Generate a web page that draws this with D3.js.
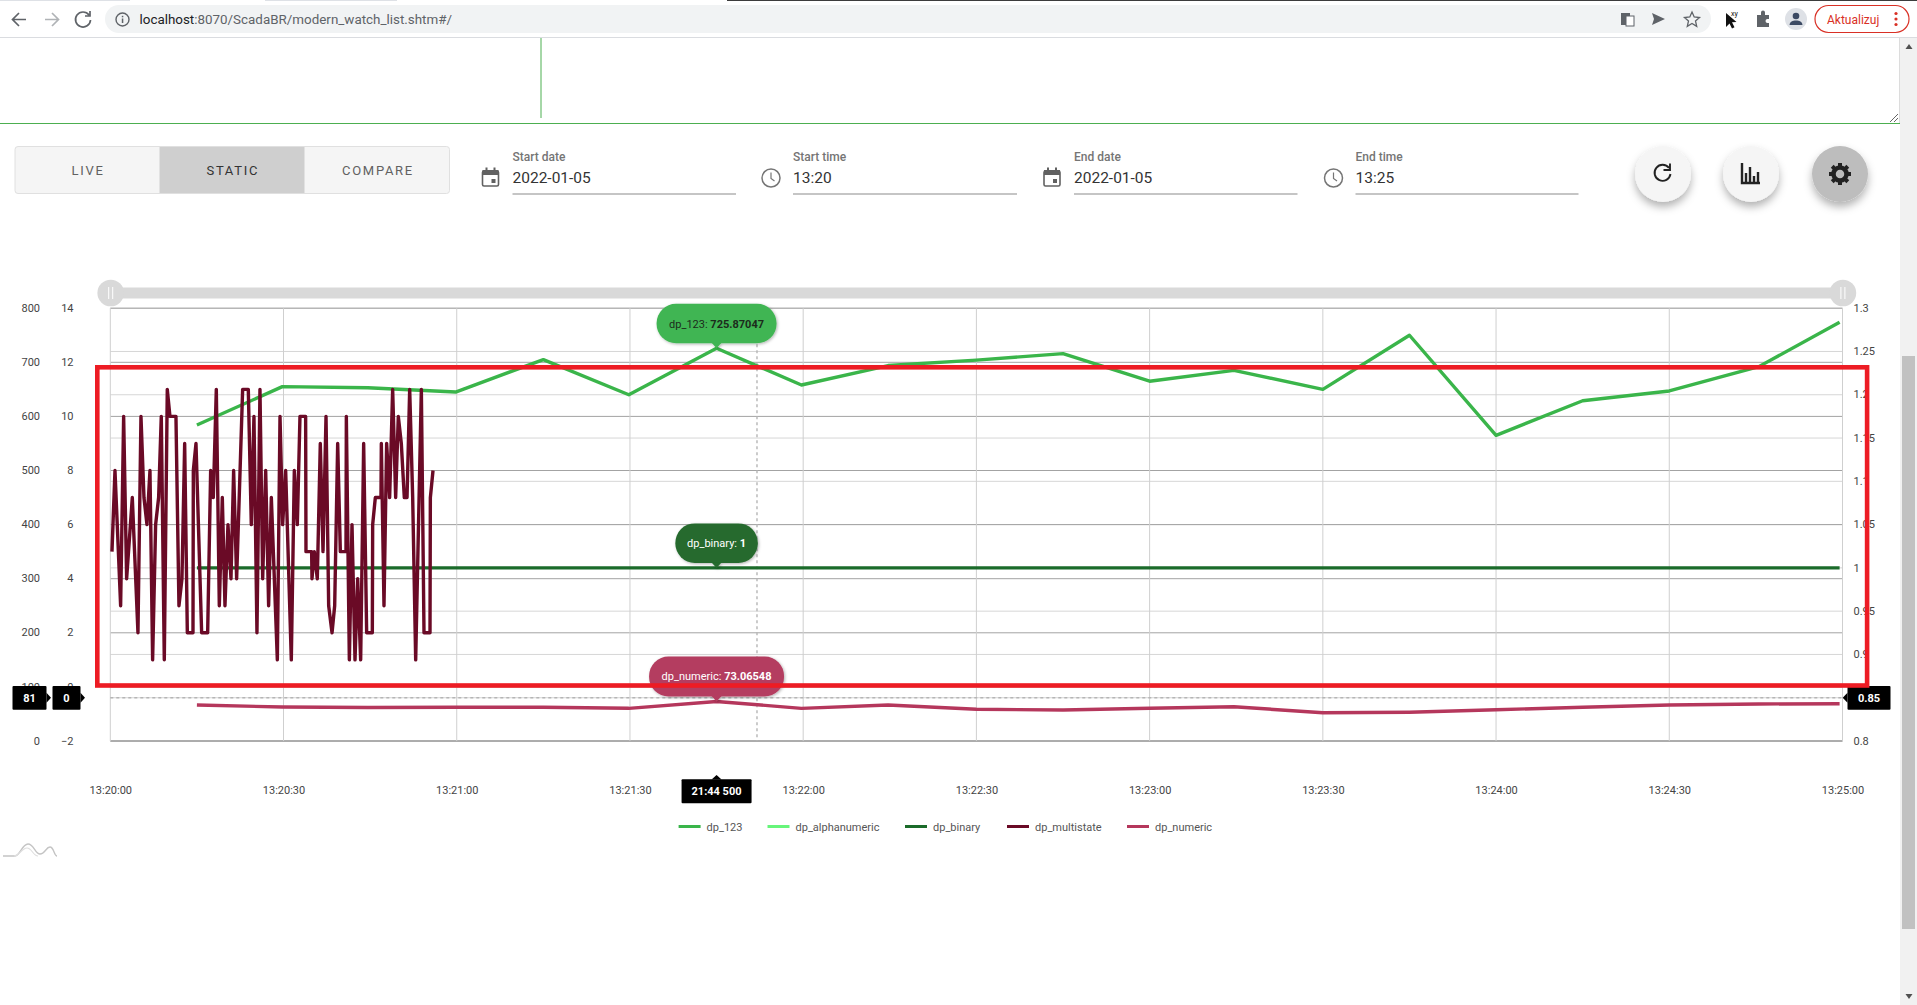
<!DOCTYPE html>
<html>
<head>
<meta charset="utf-8">
<script src="https://cdn.jsdelivr.net/npm/d3@7"></script>
<style>
html, body { margin: 0; padding: 0; background: #fff; overflow: hidden; }
svg { display: block; }
text { font-family: Roboto, "Liberation Sans", sans-serif; }
</style>
</head>
<body>
<div id="chart"></div>
<script>
// seconds after 13:20:00
const pointSeconds = [15, 29.8, 44.6, 59.8, 75, 89.8, 105, 119.7, 134.7, 150, 165, 180, 194.6, 210, 225, 240, 255, 270, 285.5, 299.5];
const dp123 = [584, 655, 653, 645, 705, 640, 725.87, 658, 694, 704, 716, 665, 685, 650, 750, 565, 629, 647, 692, 774];
const dpBinary = [1, 1, 1, 1, 1, 1, 1, 1, 1, 1, 1, 1, 1, 1, 1, 1, 1, 1, 1, 1];
const dpNumeric = [66.5, 62.8, 62, 62.3, 62.5, 60.4, 73.07, 60.4, 66.5, 58.6, 57.3, 60.4, 63.4, 52.1, 53.2, 57.8, 62.3, 66.5, 68.4, 68.9];

const multiSeconds = [0.29, 0.81, 1.79, 2.31, 2.83, 3.81, 4.79, 5.31, 5.83, 6.35, 6.87, 7.33, 7.85, 8.37, 8.83, 9.35, 9.87, 10.33, 11.37, 11.89,
  12.41, 12.88, 13.34, 14.32, 14.38, 14.84, 15.82, 16.86, 17.38, 17.84, 18.36, 18.88, 19.4, 19.86, 20.38, 20.9, 21.36, 21.88, 22.92, 23.9,
  24.42, 24.88, 25.4, 25.92, 26.39, 26.91, 27.42, 27.89, 28.93, 29.39, 29.85, 30.37, 31.35, 31.87, 32.39, 32.85, 33.83, 33.89, 34.87, 34.93,
  35.33, 35.85, 36.37, 36.84, 37.36, 37.82, 38.4, 38.86, 39.38, 39.84, 40.82, 40.88, 41.4, 41.86, 42.38, 42.84, 43.36, 43.88, 44.4, 45.38,
  45.44, 45.9, 46.88, 46.94, 47.4, 47.86, 48.38, 48.9, 49.42, 49.88, 50.4, 50.92, 51.39, 51.85, 52.37, 52.89, 53.87, 54.33, 55.37, 55.43, 55.89];
const dpMultistate = [5, 8, 3, 10, 4, 7, 2, 10, 7, 6, 8, 1, 6, 7, 10, 1, 11, 10, 10, 3,
  4, 9, 2, 2, 8, 9, 2, 2, 8, 7, 11, 3, 7, 3, 6, 4, 8, 4, 11, 11,
  6, 10, 2, 11, 4, 8, 3, 7, 1, 10, 6, 8, 1, 8, 6, 10, 10, 5, 5, 4,
  5, 4, 9, 5, 10, 3, 2, 3, 9, 5, 5, 10, 1, 6, 1, 4, 1, 9, 2, 2,
  6, 7, 7, 9, 3, 9, 7, 11, 7, 10, 9, 7, 7, 11, 7, 1, 11, 2, 2, 7, 8];

const leftTicks = [0, 100, 200, 300, 400, 500, 600, 700, 800];
const multiTicks = [-2, 0, 2, 4, 6, 8, 10, 12, 14];
const rightTicks = [0.8, 0.85, 0.9, 0.95, 1, 1.05, 1.1, 1.15, 1.2, 1.25, 1.3];
const timeTickSeconds = [0, 30, 60, 90, 120, 150, 180, 210, 240, 270, 300];

const legendNames = ["dp_123", "dp_alphanumeric", "dp_binary", "dp_multistate", "dp_numeric"];
const legendColors = ["#3ab54a", "#67f57a", "#1b6b2a", "#6a0a26", "#b5375c"];
const legendLineX = [678.6, 767.5, 905, 1007, 1127];

const svg = d3.select("#chart").append("svg").attr("width", 1917).attr("height", 1005);
const W = 1917;

const defs = svg.append("defs");
const shadow = defs.append("filter").attr("id", "shadow").attr("x", "-40%").attr("y", "-40%").attr("width", "180%").attr("height", "200%");
shadow.append("feDropShadow").attr("dx", 0).attr("dy", 5).attr("stdDeviation", 4).attr("flood-color", "#000").attr("flood-opacity", 0.3);
const tipShadow = defs.append("filter").attr("id", "tipShadow").attr("x", "-20%").attr("y", "-20%").attr("width", "140%").attr("height", "150%");
tipShadow.append("feDropShadow").attr("dx", 1).attr("dy", 1).attr("stdDeviation", 1.5).attr("flood-color", "#000").attr("flood-opacity", 0.3);

function toDate(s) { return new Date(2022, 0, 5, 13, 20, 0, s * 1000); }

// ---------- browser bar
const chrome = svg.append("g");
chrome.append("rect").attr("width", W).attr("height", 37).attr("fill", "#fff");
chrome.append("rect").attr("width", 130).attr("height", 1).attr("fill", "#dee1e6");
chrome.append("rect").attr("x", 265).attr("width", 132).attr("height", 1).attr("fill", "#dee1e6");
chrome.append("rect").attr("x", 727).attr("width", 1190).attr("height", 1).attr("fill", "#3c3c3c");
chrome.append("line").attr("x1", 0).attr("x2", W).attr("y1", 37.5).attr("y2", 37.5).attr("stroke", "#dadce0");
chrome.append("rect").attr("x", 105).attr("y", 5).attr("width", 1606).attr("height", 28).attr("rx", 14).attr("fill", "#f1f3f4");

function navIcon(d, color) {
  chrome.append("path").attr("d", d).attr("fill", "none").attr("stroke", color).attr("stroke-width", 1.7);
}
navIcon("M26 19.5H13M19 13l-6.5 6.5L19 26", "#5f6368");
navIcon("M45 19.5H58M52 13l6.5 6.5L52 26", "#b0b3b6");
navIcon("M89 15a7.5 7.5 0 1 0 1.5 5M90 11v5h-5", "#5f6368");
chrome.append("circle").attr("cx", 122.5).attr("cy", 19.5).attr("r", 6.5).attr("fill", "none").attr("stroke", "#5f6368").attr("stroke-width", 1.4);
chrome.append("rect").attr("x", 121.8).attr("y", 18.5).attr("width", 1.5).attr("height", 4.5).attr("fill", "#5f6368");
chrome.append("rect").attr("x", 121.8).attr("y", 15.8).attr("width", 1.5).attr("height", 1.5).attr("fill", "#5f6368");

const url = chrome.append("text").attr("x", 139.5).attr("y", 24).attr("font-size", 13.4).attr("fill", "#5f6368");
url.append("tspan").attr("fill", "#202124").text("localhost");
url.append("tspan").text(":8070/ScadaBR/modern_watch_list.shtm#/");

// translate, send, star, cursor, puzzle, avatar
chrome.append("rect").attr("x", 1621).attr("y", 13).attr("width", 9).attr("height", 12).attr("fill", "#5f6368");
chrome.append("rect").attr("x", 1626).attr("y", 16).attr("width", 8).attr("height", 10).attr("fill", "#fff").attr("stroke", "#5f6368");
chrome.append("path").attr("d", "M1652 13l13 6-13 6 2-6z").attr("fill", "#5f6368");
chrome.append("path").attr("d", "M1692 12l2.2 5 5.3.5-4 3.5 1.2 5.3-4.7-2.8-4.7 2.8 1.2-5.3-4-3.5 5.3-.5z").attr("fill", "none").attr("stroke", "#5f6368").attr("stroke-width", 1.3);
chrome.append("path").attr("d", "M1726 13v14l3.5-3.5 2.5 5 2.5-1.2-2.5-5 4.5-.3z").attr("fill", "#111");
chrome.append("text").attr("x", 1731).attr("y", 16).attr("font-size", 7).attr("fill", "#111").text("xy");
chrome.append("path").attr("d", "M1757 15h4v-2.5a2 2 0 0 1 4 0V15h4v4h-1.5a2 2 0 0 0 0 4h1.5v4h-12z").attr("fill", "#5f6368");
chrome.append("circle").attr("cx", 1796).attr("cy", 19).attr("r", 11).attr("fill", "#dee1e6");
chrome.append("circle").attr("cx", 1796).attr("cy", 16).attr("r", 3.3).attr("fill", "#3c4a63");
chrome.append("path").attr("d", "M1789.5 25c.5-3.5 3-4.5 6.5-4.5s6 1 6.5 4.5z").attr("fill", "#3c4a63");
chrome.append("rect").attr("x", 1815).attr("y", 5.5).attr("width", 94).attr("height", 27).attr("rx", 13.5).attr("fill", "#fff").attr("stroke", "#d93025").attr("stroke-width", 1.2);
chrome.append("text").attr("x", 1827).attr("y", 23.5).attr("font-size", 12).attr("fill", "#d93025").text("Aktualizuj");
[13.5, 19, 24.5].forEach(y => chrome.append("circle").attr("cx", 1896).attr("cy", y).attr("r", 1.6).attr("fill", "#d93025"));

// ---------- textarea remains and scrollbar
svg.append("line").attr("x1", 541).attr("x2", 541).attr("y1", 38).attr("y2", 118).attr("stroke", "#4caf50");
svg.append("line").attr("x1", 0).attr("x2", 1900).attr("y1", 123.5).attr("y2", 123.5).attr("stroke", "#4caf50").attr("stroke-width", 1.2);
svg.append("line").attr("x1", 1899.5).attr("x2", 1899.5).attr("y1", 38).attr("y2", 123).attr("stroke", "#dcdcdc");
svg.append("path").attr("d", "M1890 122l8-8M1894 122l4-4").attr("stroke", "#666").attr("fill", "none");
svg.append("rect").attr("x", 1900).attr("y", 38).attr("width", 17).attr("height", 967).attr("fill", "#f1f1f1");
svg.append("rect").attr("x", 1902).attr("y", 356).attr("width", 13).attr("height", 573).attr("fill", "#c1c1c1");
svg.append("path").attr("d", "M1905.5 49l3.5-5 3.5 5z").attr("fill", "#505050");
svg.append("path").attr("d", "M1905.5 994l3.5 5 3.5-5z").attr("fill", "#505050");

// ---------- range mode toggle
const toggle = svg.append("g");
toggle.append("rect").attr("x", 15).attr("y", 146.5).attr("width", 434.5).attr("height", 47).attr("rx", 3).attr("fill", "#f5f5f5").attr("stroke", "#e0e0e0");
toggle.append("rect").attr("x", 159.5).attr("y", 147).attr("width", 145).attr("height", 46).attr("fill", "#cfcfcf");
[["LIVE", 88, "#616161"], ["STATIC", 232.8, "#333"], ["COMPARE", 378, "#616161"]].forEach(d => {
  toggle.append("text").attr("x", d[1]).attr("y", 174.5).attr("text-anchor", "middle")
    .attr("font-size", 13).attr("letter-spacing", 1.7).attr("fill", d[2]).text(d[0]);
});

// ---------- date and time fields
const fields = [
  ["Start date", "2022-01-05", 512.5, 736, "date"],
  ["Start time", "13:20", 793, 1017, "time"],
  ["End date", "2022-01-05", 1074, 1297.5, "date"],
  ["End time", "13:25", 1355.5, 1578.5, "time"]
];
fields.forEach(f => {
  const g = svg.append("g");
  g.append("text").attr("x", f[2]).attr("y", 161).attr("font-size", 12).attr("font-weight", 500).attr("fill", "#757575").text(f[0]);
  g.append("text").attr("x", f[2]).attr("y", 183).attr("font-size", 15.5).attr("fill", "#333").text(f[1]);
  g.append("line").attr("x1", f[2]).attr("x2", f[3]).attr("y1", 194).attr("y2", 194).attr("stroke", "#8c8c8c").attr("stroke-width", 1.2);
  const ix = f[2] - 22;
  if (f[4] === "date") {
    g.append("rect").attr("x", ix - 8).attr("y", 171).attr("width", 16).attr("height", 15).attr("rx", 1.5).attr("fill", "#fff").attr("stroke", "#616161").attr("stroke-width", 1.6);
    g.append("rect").attr("x", ix - 8).attr("y", 170).attr("width", 16).attr("height", 5).attr("fill", "#616161");
    g.append("rect").attr("x", ix - 5).attr("y", 167.5).attr("width", 2).attr("height", 3).attr("fill", "#616161");
    g.append("rect").attr("x", ix + 3).attr("y", 167.5).attr("width", 2).attr("height", 3).attr("fill", "#616161");
    g.append("rect").attr("x", ix + 1).attr("y", 179).attr("width", 4).attr("height", 4).attr("fill", "#616161");
  } else {
    g.append("circle").attr("cx", ix).attr("cy", 178).attr("r", 9).attr("fill", "none").attr("stroke", "#757575").attr("stroke-width", 1.5);
    g.append("path").attr("d", `M${ix} 172.5v6l3.5 2.5`).attr("fill", "none").attr("stroke", "#757575").attr("stroke-width", 1.2);
  }
});

// ---------- round buttons
[[1663, "#f5f5f5"], [1751, "#f5f5f5"], [1840, "#bdbdbd"]].forEach(b => {
  svg.append("circle").attr("cx", b[0]).attr("cy", 174).attr("r", 28).attr("fill", b[1]).attr("filter", "url(#shadow)");
});
svg.append("path").attr("d", "M1669 168a8 8 0 1 0 1.5 6M1670 163.5v6.5h-6.5").attr("fill", "none").attr("stroke", "#222").attr("stroke-width", 1.9);
svg.append("path").attr("d", "M1742 163v20h18M1746 183v-10M1750 183v-16M1754 183v-7M1758 183v-11").attr("fill", "none").attr("stroke", "#222").attr("stroke-width", 2.4);
svg.append("circle").attr("cx", 1840).attr("cy", 174).attr("r", 6.5).attr("fill", "none").attr("stroke", "#222").attr("stroke-width", 4.5);
d3.range(8).forEach(i => {
  svg.append("rect").attr("x", 1838).attr("y", 163).attr("width", 4).attr("height", 4).attr("fill", "#222")
    .attr("transform", `rotate(${i * 45} 1840 174)`);
});

// ---------- chart
const plotL = 110.3, plotR = 1842.5, plotT = 308.2, plotB = 741;
const x = d3.scaleTime().domain([toDate(0), toDate(300)]).range([plotL, plotR]);
const yLeft = d3.scaleLinear().domain([0, 800]).range([plotB, plotT]);
const yMulti = d3.scaleLinear().domain([-2, 14]).range([plotB, plotT]);
const yRight = d3.scaleLinear().domain([0.8, 1.3]).range([plotB, plotT]);

const chart = svg.append("g");

// scrollbar over the plot
chart.append("rect").attr("x", 122).attr("y", 287.5).attr("width", 1710).attr("height", 11).attr("fill", "#d9d9d9");
[plotL, plotR].forEach(cx => {
  chart.append("circle").attr("cx", cx + 0.4).attr("cy", 293).attr("r", 13.3).attr("fill", "#d9d9d9");
  chart.append("path").attr("d", `M${cx - 1.6} 287v12M${cx + 2.4} 287v12`).attr("stroke", "#fff").attr("stroke-width", 1);
});

// grid
chart.append("g").selectAll("line").data(rightTicks).join("line")
  .attr("x1", plotL).attr("x2", plotR).attr("y1", d => yRight(d)).attr("y2", d => yRight(d))
  .attr("stroke", "#d6d6d6").attr("stroke-width", 1);
chart.append("g").selectAll("line").data(leftTicks).join("line")
  .attr("x1", plotL).attr("x2", plotR).attr("y1", d => yLeft(d)).attr("y2", d => yLeft(d))
  .attr("stroke", d => d === 0 ? "#6e6e6e" : "#a3a3a3").attr("stroke-width", 1);
chart.append("g").selectAll("line").data(timeTickSeconds).join("line")
  .attr("x1", d => x(toDate(d))).attr("x2", d => x(toDate(d))).attr("y1", plotT).attr("y2", plotB)
  .attr("stroke", "#cfcfcf").attr("stroke-width", 1);

// axes
function styleAxis(g) {
  g.select(".domain").remove();
  g.selectAll("line").remove();
  g.selectAll("text").attr("font-family", "Roboto, sans-serif").attr("font-size", 11).attr("fill", "#444");
}
chart.append("g").attr("transform", "translate(40,-0.4)")
  .call(d3.axisLeft(yLeft).tickValues(leftTicks).tickSize(0).tickPadding(0)).call(styleAxis);
chart.append("g").attr("transform", "translate(73.5,-0.4)")
  .call(d3.axisLeft(yMulti).tickValues(multiTicks).tickSize(0).tickPadding(0)).call(styleAxis);
chart.append("g").attr("transform", "translate(1853.5,-0.4)")
  .call(d3.axisRight(yRight).tickValues(rightTicks).tickSize(0).tickPadding(0).tickFormat(d3.format(""))).call(styleAxis);
chart.append("g").attr("transform", "translate(0,786)")
  .call(d3.axisBottom(x).tickValues(timeTickSeconds.map(toDate)).tickSize(0).tickPadding(0).tickFormat(d3.timeFormat("%H:%M:%S"))).call(styleAxis);

// crosshair
const cursorSeconds = 112;
chart.append("line").attr("x1", x(toDate(cursorSeconds))).attr("x2", x(toDate(cursorSeconds))).attr("y1", plotT).attr("y2", plotB)
  .attr("stroke", "#b5b5b5").attr("stroke-width", 1.4).attr("stroke-dasharray", "3 3");
chart.append("line").attr("x1", plotL).attr("x2", plotR).attr("y1", yRight(0.85)).attr("y2", yRight(0.85))
  .attr("stroke", "#b5b5b5").attr("stroke-width", 1.4).attr("stroke-dasharray", "3 3");

// series
function drawLine(times, values, y, color) {
  const line = d3.line().x((d, i) => x(toDate(times[i]))).y(d => y(d));
  chart.append("path").datum(values).attr("d", line).attr("fill", "none")
    .attr("stroke", color).attr("stroke-width", 3.4).attr("stroke-linejoin", "round");
}
drawLine(pointSeconds, dp123, yLeft, legendColors[0]);
drawLine(pointSeconds, dpBinary, yRight, legendColors[2]);
drawLine(multiSeconds, dpMultistate, yMulti, legendColors[3]);
drawLine(pointSeconds, dpNumeric, yLeft, legendColors[4]);

// legend
const legend = chart.append("g");
legendNames.forEach((name, i) => {
  legend.append("line").attr("x1", legendLineX[i]).attr("x2", legendLineX[i] + 22).attr("y1", 826.5).attr("y2", 826.5)
    .attr("stroke", legendColors[i]).attr("stroke-width", 3);
  legend.append("text").attr("x", legendLineX[i] + 28).attr("y", 830.5).attr("font-size", 11).attr("fill", "#555").text(name);
});

// bubbles at the hovered point
const hoverSeconds = 105;
function bubble(tipY, w, h, fill, label, value, textColor) {
  const tipX = x(toDate(hoverSeconds));
  const top = tipY - 5 - h, left = tipX - w / 2;
  const g = chart.append("g").attr("filter", "url(#tipShadow)");
  g.append("rect").attr("x", left).attr("y", top).attr("width", w).attr("height", h).attr("rx", 19.5).attr("fill", fill);
  g.append("path").attr("d", `M${tipX - 5} ${tipY - 5.5}L${tipX} ${tipY}L${tipX + 5} ${tipY - 5.5}z`).attr("fill", fill);
  const t = chart.append("text").attr("x", tipX).attr("y", top + h / 2 + 4).attr("text-anchor", "middle")
    .attr("font-size", 11).attr("fill", textColor);
  t.append("tspan").text(label + ": ");
  t.append("tspan").attr("font-weight", 700).text(value);
}
bubble(yLeft(725.87047), 120, 39.5, "#41b553", "dp_123", "725.87047", "#1c2b1c");
bubble(yRight(1), 82.5, 39.5, "#256b2d", "dp_binary", "1", "#fff");
bubble(yLeft(73.06548), 135, 40, "#b43e60", "dp_numeric", "73.06548", "#fff");

// black cursor badges
function badge(left, right, top, bottom, tip, text) {
  const g = chart.append("g");
  g.append("rect").attr("x", left).attr("y", top).attr("width", right - left).attr("height", bottom - top).attr("rx", 1).attr("fill", "#000");
  const mid = (top + bottom) / 2, edge = tip > right ? right : left;
  g.append("path").attr("d", `M${edge} ${mid - 5}L${tip} ${mid}L${edge} ${mid + 5}z`).attr("fill", "#000");
  g.append("text").attr("x", (left + right) / 2).attr("y", mid + 4).attr("text-anchor", "middle")
    .attr("font-size", 11).attr("font-weight", 700).attr("fill", "#fff").text(text);
}
badge(12.5, 46.5, 686, 709.7, 51, "81");
badge(52.5, 80.5, 686, 709.7, 85, "0");
badge(1847.5, 1890.5, 686, 709.7, 1842.7, "0.85");

const timeTipX = x(toDate(hoverSeconds));
chart.append("rect").attr("x", timeTipX - 35).attr("y", 779.3).attr("width", 70).attr("height", 24).attr("rx", 1).attr("fill", "#000");
chart.append("path").attr("d", `M${timeTipX - 5} 779.5L${timeTipX} 775L${timeTipX + 5} 779.5z`).attr("fill", "#000");
chart.append("text").attr("x", timeTipX).attr("y", 795.3).attr("text-anchor", "middle")
  .attr("font-size", 11).attr("font-weight", 700).attr("fill", "#fff").text("21:44 500");

// small logo below the chart
svg.append("path").attr("d", "M3 856h12c5 0 7-12 13-12s7 10 12 10 6-7 10-7 4 9 7 9").attr("fill", "none").attr("stroke", "#c4c4c4").attr("stroke-width", 1.4);
svg.append("path").attr("d", "M14 856c5 0 8-8 13-8s6 8 11 8").attr("fill", "none").attr("stroke", "#dedede").attr("stroke-width", 1.2);

// red annotation frame
svg.append("rect").attr("x", 97.3).attr("y", 367.3).attr("width", 1769.8).attr("height", 318.2)
  .attr("fill", "none").attr("stroke", "#ed1c24").attr("stroke-width", 4.6);
</script>
</body>
</html>
